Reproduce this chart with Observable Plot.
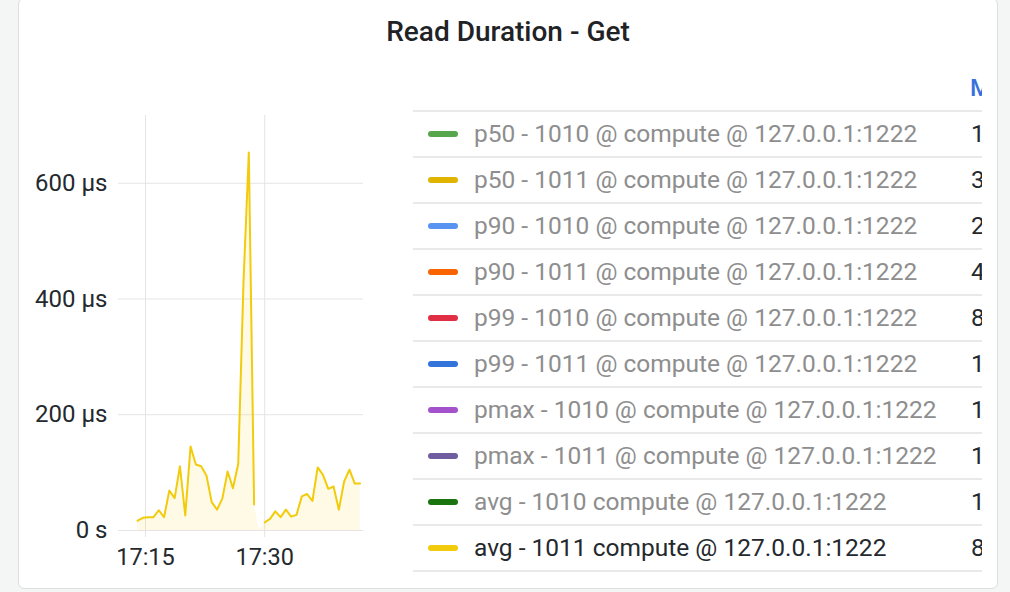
<!DOCTYPE html>
<html><head><meta charset="utf-8">
<script src="https://cdn.jsdelivr.net/npm/d3@7"></script>
<script src="https://cdn.jsdelivr.net/npm/@observablehq/plot@0.6"></script>
<style>
html,body{margin:0;padding:0;width:1010px;height:592px;overflow:hidden;background:#f4f5f5;font-family:Roboto,"Noto Sans",sans-serif;}
#card{position:absolute;left:18px;top:-2px;width:980px;height:591px;background:#fff;border:1px solid #dcdee1;border-radius:6px;box-sizing:border-box;}
#title{position:absolute;left:18px;width:980px;top:15px;text-align:center;font-size:28px;font-weight:500;color:#202226;line-height:34px;}
#chart{position:absolute;left:0;top:0;}
#legend{position:absolute;left:413px;top:60px;width:569px;height:520px;overflow:hidden;}
#legend .hdr{position:absolute;left:557px;top:14px;font-size:24px;font-weight:500;color:#3871dc;white-space:nowrap;line-height:28px;}
#legend .row{position:absolute;left:0;width:569px;height:46px;border-top:2px solid #e9e9e9;box-sizing:border-box;}
#legend .sw{position:absolute;left:15px;top:19px;width:30px;height:6px;border-radius:3px;}
#legend .lbl{position:absolute;left:61px;top:0;line-height:44px;font-size:24.5px;white-space:nowrap;}
#legend .val{position:absolute;left:558px;top:0;line-height:44px;font-size:24.5px;color:#24292e;white-space:nowrap;}
#legend .end{position:absolute;left:0;width:569px;height:0;border-top:2px solid #e9e9e9;}
</style></head>
<body>
<div id="card"></div>
<div id="title">Read Duration - Get</div>
<div id="chart"></div>
<div id="legend"></div>
<script>
// ---- data ----
const times = ["17:14:00","17:14:40","17:15:20","17:16:00","17:16:40","17:17:20","17:18:00","17:18:40","17:19:20","17:20:00","17:20:40","17:21:20","17:22:00","17:22:40","17:23:20","17:24:00","17:24:40","17:25:20","17:26:00","17:26:40","17:27:20","17:28:00","17:28:40","17:29:20","17:30:00","17:30:40","17:31:20","17:32:00","17:32:40","17:33:20","17:34:00","17:34:40","17:35:20","17:36:00","17:36:40","17:37:20","17:38:00","17:38:40","17:39:20","17:40:00","17:40:40","17:41:20","17:42:00"];
const avg1011 = [17,22,23,23,35,23,69,56,111,26,145,114,111,95,49,36,55,102,73,115,430,653,45,null,14,20,33,23,36,24,27,59,63,51,109,96,72,76,36,85,105,81,81];
const yTicks = [0,200,400,600];
const xTicks = ["17:15","17:30"];
const xRange = ["17:11:36","17:42:26"];
const yMax = 717;
const seriesNames = ["p50 - 1010 @ compute @ 127.0.0.1:1222","p50 - 1011 @ compute @ 127.0.0.1:1222","p90 - 1010 @ compute @ 127.0.0.1:1222","p90 - 1011 @ compute @ 127.0.0.1:1222","p99 - 1010 @ compute @ 127.0.0.1:1222","p99 - 1011 @ compute @ 127.0.0.1:1222","pmax - 1010 @ compute @ 127.0.0.1:1222","pmax - 1011 @ compute @ 127.0.0.1:1222","avg - 1010 compute @ 127.0.0.1:1222","avg - 1011 compute @ 127.0.0.1:1222"];
const seriesColors = ["#56a64b","#e0b400","#5794f2","#fa6400","#e02f44","#3274d9","#a352cc","#705da0","#19730e","#f2cc0c"];
const seriesFirstDigit = ["1","3","2","4","8","1","1","1","1","8"];
const activeSeries = 9;
const legendHeader = "Mean";

// ---- build ----
const toDate = s => { const p = s.split(":").map(Number); return new Date(2024,0,1,p[0],p[1],p[2]||0); };
const data = times.map((t,i) => ({t: toDate(t), v: avg1011[i]}));
const xTickDates = xTicks.map(toDate);
const fmtY = d => d === 0 ? "0 s" : d + " \u00b5s";
const grid = "#e4e4e4";

const chart = Plot.plot({
  width: 400, height: 592,
  marginLeft: 118, marginRight: 37, marginTop: 115, marginBottom: 62,
  style: {fontFamily: "Roboto, sans-serif", fontSize: "24px", background: "transparent", overflow: "visible"},
  x: {type: "time", domain: xRange.map(toDate)},
  y: {domain: [0, yMax]},
  marks: [
    Plot.gridY(yTicks, {stroke: grid, strokeOpacity: 1}),
    Plot.gridX(xTickDates, {stroke: grid, strokeOpacity: 1}),
    Plot.areaY(data, {x: "t", y: "v", fill: "#f2cc0c", fillOpacity: 0.1}),
    Plot.lineY(data, {x: "t", y: "v", stroke: "#f2cc0c", strokeWidth: 2}),
    Plot.axisY(yTicks, {tickSize: 0, tickPadding: 11, tickFormat: fmtY, fill: "#24292e", fontSize: 24, label: null}),
    Plot.axisX(xTickDates, {tickSize: 7, tickPadding: 11, stroke: grid, strokeOpacity: 1, tickFormat: d3.timeFormat("%H:%M"), fill: "#24292e", fontSize: 23.5, label: null})
  ]
});
document.getElementById("chart").appendChild(chart);

const lg = document.getElementById("legend");
const hdr = document.createElement("div"); hdr.className = "hdr"; hdr.textContent = legendHeader; lg.appendChild(hdr);
seriesNames.forEach((name, i) => {
  const r = document.createElement("div"); r.className = "row"; r.style.top = (50 + 46*i) + "px";
  const sw = document.createElement("div"); sw.className = "sw"; sw.style.background = seriesColors[i];
  const lb = document.createElement("div"); lb.className = "lbl"; lb.textContent = name;
  lb.style.color = i === activeSeries ? "#24292e" : "#8e8e8e";
  const vl = document.createElement("div"); vl.className = "val"; vl.textContent = seriesFirstDigit[i];
  r.append(sw, lb, vl); lg.appendChild(r);
});
const end = document.createElement("div"); end.className = "end"; end.style.top = (50 + 46*seriesNames.length) + "px"; lg.appendChild(end);
</script>
</body></html>
